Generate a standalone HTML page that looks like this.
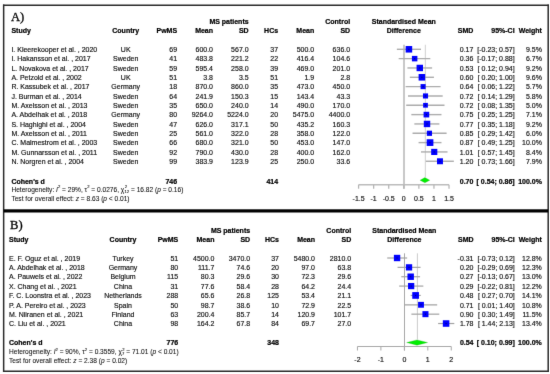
<!DOCTYPE html>
<html><head><meta charset="utf-8"><title>Forest plots</title>
<style>html,body{margin:0;padding:0;background:#fff;width:550px;height:374px;overflow:hidden}svg{display:block}</style>
</head><body>
<svg width="550" height="374" viewBox="0 0 550 374" font-family="'Liberation Sans', Arial, sans-serif" font-size="7.0">
<style>text{stroke:currentColor;stroke-width:0.15px;paint-order:stroke}text[font-weight=bold]{stroke-width:0.22px}</style>
<defs><filter id="soft" filterUnits="userSpaceOnUse" x="0" y="0" width="550" height="374" color-interpolation-filters="sRGB"><feConvolveMatrix order="3" kernelMatrix="0.00524 0.06192 0.00524 0.06192 0.73137 0.06192 0.00524 0.06192 0.00524" edgeMode="duplicate"/></filter></defs>
<g filter="url(#soft)">
<rect width="550" height="374" fill="#fff"/>
<text x="10.90" y="21.30" font-size="12.6" font-family="'Liberation Serif', 'Times New Roman', serif" style="stroke:#000;stroke-width:0.3px">A)</text>
<text transform="translate(11.40,33.49) scale(1,1.04)" font-weight="bold">Study</text>
<text transform="translate(125.70,33.49) scale(1,1.04)" text-anchor="middle" font-weight="bold">Country</text>
<text transform="translate(177.10,33.49) scale(1,1.04)" text-anchor="end" font-weight="bold">PwMS</text>
<text transform="translate(213.00,33.49) scale(1,1.04)" text-anchor="end" font-weight="bold">Mean</text>
<text transform="translate(248.60,24.16) scale(1,1.04)" text-anchor="end" font-weight="bold">MS patients</text>
<text transform="translate(248.60,33.49) scale(1,1.04)" text-anchor="end" font-weight="bold">SD</text>
<text transform="translate(278.10,33.49) scale(1,1.04)" text-anchor="end" font-weight="bold">HCs</text>
<text transform="translate(314.20,33.49) scale(1,1.04)" text-anchor="end" font-weight="bold">Mean</text>
<text transform="translate(350.10,24.16) scale(1,1.04)" text-anchor="end" font-weight="bold">Control</text>
<text transform="translate(350.10,33.49) scale(1,1.04)" text-anchor="end" font-weight="bold">SD</text>
<text transform="translate(403.80,24.16) scale(1,1.04)" text-anchor="middle" font-weight="bold">Standardised Mean</text>
<text transform="translate(403.80,33.49) scale(1,1.04)" text-anchor="middle" font-weight="bold">Difference</text>
<text transform="translate(473.40,33.49) scale(1,1.04)" text-anchor="end" font-weight="bold">SMD</text>
<text transform="translate(514.60,33.49) scale(1,1.04)" text-anchor="end" font-weight="bold">95%-CI</text>
<text transform="translate(541.90,33.49) scale(1,1.04)" text-anchor="end" font-weight="bold">Weight</text>
<line x1="404.00" y1="44.63" x2="404.00" y2="188.70" stroke="#c8c8c8" stroke-width="2.0"/>
<line x1="425.40" y1="44.63" x2="425.40" y2="177.27" stroke="#d8d8d8" stroke-width="1.2"/>
<text transform="translate(11.40,52.00) scale(1,1.04)" fill="#111">I. Kleerekooper et al. , 2020</text>
<text transform="translate(125.70,52.00) scale(1,1.04)" text-anchor="middle" fill="#111">UK</text>
<text transform="translate(177.10,52.00) scale(1,1.04)" text-anchor="end" fill="#111">69</text>
<text transform="translate(213.00,52.00) scale(1,1.04)" text-anchor="end" fill="#111">600.0</text>
<text transform="translate(248.60,52.00) scale(1,1.04)" text-anchor="end" fill="#111">567.0</text>
<text transform="translate(278.10,52.00) scale(1,1.04)" text-anchor="end" fill="#111">37</text>
<text transform="translate(314.20,52.00) scale(1,1.04)" text-anchor="end" fill="#111">500.0</text>
<text transform="translate(350.10,52.00) scale(1,1.04)" text-anchor="end" fill="#111">636.0</text>
<text transform="translate(473.40,52.00) scale(1,1.04)" text-anchor="end" fill="#111">0.17</text>
<text transform="translate(514.60,52.00) scale(1,1.04)" text-anchor="end" fill="#111" xml:space="preserve">[-0.23; 0.57]</text>
<text transform="translate(541.90,52.00) scale(1,1.04)" text-anchor="end" fill="#111">9.5%</text>
<line x1="396.87" y1="49.30" x2="420.99" y2="49.30" stroke="#acacac" stroke-width="1.4"/>
<rect x="405.66" y="46.03" width="6.53" height="6.53" fill="#0000ff"/>
<rect x="408.33" y="48.70" width="1.20" height="1.20" fill="#000080"/>
<text transform="translate(11.40,61.33) scale(1,1.04)" fill="#111">I. Hakansson et al. , 2017</text>
<text transform="translate(125.70,61.33) scale(1,1.04)" text-anchor="middle" fill="#111">Sweden</text>
<text transform="translate(177.10,61.33) scale(1,1.04)" text-anchor="end" fill="#111">41</text>
<text transform="translate(213.00,61.33) scale(1,1.04)" text-anchor="end" fill="#111">483.8</text>
<text transform="translate(248.60,61.33) scale(1,1.04)" text-anchor="end" fill="#111">221.2</text>
<text transform="translate(278.10,61.33) scale(1,1.04)" text-anchor="end" fill="#111">22</text>
<text transform="translate(314.20,61.33) scale(1,1.04)" text-anchor="end" fill="#111">416.4</text>
<text transform="translate(350.10,61.33) scale(1,1.04)" text-anchor="end" fill="#111">104.6</text>
<text transform="translate(473.40,61.33) scale(1,1.04)" text-anchor="end" fill="#111">0.36</text>
<text transform="translate(514.60,61.33) scale(1,1.04)" text-anchor="end" fill="#111" xml:space="preserve">[-0.17; 0.88]</text>
<text transform="translate(541.90,61.33) scale(1,1.04)" text-anchor="end" fill="#111">6.7%</text>
<line x1="398.67" y1="58.63" x2="430.33" y2="58.63" stroke="#acacac" stroke-width="1.4"/>
<rect x="411.91" y="55.89" width="5.48" height="5.48" fill="#0000ff"/>
<rect x="414.05" y="58.03" width="1.20" height="1.20" fill="#000080"/>
<text transform="translate(11.40,70.66) scale(1,1.04)" fill="#111">L. Novakova et al. , 2017</text>
<text transform="translate(125.70,70.66) scale(1,1.04)" text-anchor="middle" fill="#111">Sweden</text>
<text transform="translate(177.10,70.66) scale(1,1.04)" text-anchor="end" fill="#111">59</text>
<text transform="translate(213.00,70.66) scale(1,1.04)" text-anchor="end" fill="#111">595.4</text>
<text transform="translate(248.60,70.66) scale(1,1.04)" text-anchor="end" fill="#111">258.0</text>
<text transform="translate(278.10,70.66) scale(1,1.04)" text-anchor="end" fill="#111">39</text>
<text transform="translate(314.20,70.66) scale(1,1.04)" text-anchor="end" fill="#111">469.0</text>
<text transform="translate(350.10,70.66) scale(1,1.04)" text-anchor="end" fill="#111">201.0</text>
<text transform="translate(473.40,70.66) scale(1,1.04)" text-anchor="end" fill="#111">0.53</text>
<text transform="translate(514.60,70.66) scale(1,1.04)" text-anchor="end" fill="#111" xml:space="preserve">[&#160;0.12; 0.94]</text>
<text transform="translate(541.90,70.66) scale(1,1.04)" text-anchor="end" fill="#111">9.2%</text>
<line x1="407.42" y1="67.96" x2="432.14" y2="67.96" stroke="#acacac" stroke-width="1.4"/>
<rect x="416.57" y="64.75" width="6.43" height="6.43" fill="#0000ff"/>
<rect x="419.18" y="67.36" width="1.20" height="1.20" fill="#000080"/>
<text transform="translate(11.40,79.99) scale(1,1.04)" fill="#111">A. Petzold et al. , 2002</text>
<text transform="translate(125.70,79.99) scale(1,1.04)" text-anchor="middle" fill="#111">UK</text>
<text transform="translate(177.10,79.99) scale(1,1.04)" text-anchor="end" fill="#111">51</text>
<text transform="translate(213.00,79.99) scale(1,1.04)" text-anchor="end" fill="#111">3.8</text>
<text transform="translate(248.60,79.99) scale(1,1.04)" text-anchor="end" fill="#111">3.5</text>
<text transform="translate(278.10,79.99) scale(1,1.04)" text-anchor="end" fill="#111">51</text>
<text transform="translate(314.20,79.99) scale(1,1.04)" text-anchor="end" fill="#111">1.9</text>
<text transform="translate(350.10,79.99) scale(1,1.04)" text-anchor="end" fill="#111">2.8</text>
<text transform="translate(473.40,79.99) scale(1,1.04)" text-anchor="end" fill="#111">0.60</text>
<text transform="translate(514.60,79.99) scale(1,1.04)" text-anchor="end" fill="#111" xml:space="preserve">[&#160;0.20; 1.00]</text>
<text transform="translate(541.90,79.99) scale(1,1.04)" text-anchor="end" fill="#111">9.6%</text>
<line x1="409.83" y1="77.29" x2="433.95" y2="77.29" stroke="#acacac" stroke-width="1.4"/>
<rect x="418.61" y="74.01" width="6.56" height="6.56" fill="#0000ff"/>
<rect x="421.29" y="76.69" width="1.20" height="1.20" fill="#000080"/>
<text transform="translate(11.40,89.32) scale(1,1.04)" fill="#111">R. Kassubek et al. , 2017</text>
<text transform="translate(125.70,89.32) scale(1,1.04)" text-anchor="middle" fill="#111">Germany</text>
<text transform="translate(177.10,89.32) scale(1,1.04)" text-anchor="end" fill="#111">18</text>
<text transform="translate(213.00,89.32) scale(1,1.04)" text-anchor="end" fill="#111">870.0</text>
<text transform="translate(248.60,89.32) scale(1,1.04)" text-anchor="end" fill="#111">860.0</text>
<text transform="translate(278.10,89.32) scale(1,1.04)" text-anchor="end" fill="#111">35</text>
<text transform="translate(314.20,89.32) scale(1,1.04)" text-anchor="end" fill="#111">473.0</text>
<text transform="translate(350.10,89.32) scale(1,1.04)" text-anchor="end" fill="#111">450.0</text>
<text transform="translate(473.40,89.32) scale(1,1.04)" text-anchor="end" fill="#111">0.64</text>
<text transform="translate(514.60,89.32) scale(1,1.04)" text-anchor="end" fill="#111" xml:space="preserve">[&#160;0.06; 1.22]</text>
<text transform="translate(541.90,89.32) scale(1,1.04)" text-anchor="end" fill="#111">5.7%</text>
<line x1="405.61" y1="86.62" x2="440.58" y2="86.62" stroke="#acacac" stroke-width="1.4"/>
<rect x="420.57" y="84.09" width="5.06" height="5.06" fill="#0000ff"/>
<rect x="422.50" y="86.02" width="1.20" height="1.20" fill="#000080"/>
<text transform="translate(11.40,98.65) scale(1,1.04)" fill="#111">J. Burman et al. , 2014</text>
<text transform="translate(125.70,98.65) scale(1,1.04)" text-anchor="middle" fill="#111">Sweden</text>
<text transform="translate(177.10,98.65) scale(1,1.04)" text-anchor="end" fill="#111">64</text>
<text transform="translate(213.00,98.65) scale(1,1.04)" text-anchor="end" fill="#111">241.9</text>
<text transform="translate(248.60,98.65) scale(1,1.04)" text-anchor="end" fill="#111">150.3</text>
<text transform="translate(278.10,98.65) scale(1,1.04)" text-anchor="end" fill="#111">15</text>
<text transform="translate(314.20,98.65) scale(1,1.04)" text-anchor="end" fill="#111">143.4</text>
<text transform="translate(350.10,98.65) scale(1,1.04)" text-anchor="end" fill="#111">43.3</text>
<text transform="translate(473.40,98.65) scale(1,1.04)" text-anchor="end" fill="#111">0.72</text>
<text transform="translate(514.60,98.65) scale(1,1.04)" text-anchor="end" fill="#111" xml:space="preserve">[&#160;0.14; 1.29]</text>
<text transform="translate(541.90,98.65) scale(1,1.04)" text-anchor="end" fill="#111">5.8%</text>
<line x1="408.02" y1="95.95" x2="442.69" y2="95.95" stroke="#acacac" stroke-width="1.4"/>
<rect x="422.96" y="93.40" width="5.10" height="5.10" fill="#0000ff"/>
<rect x="424.91" y="95.35" width="1.20" height="1.20" fill="#000080"/>
<text transform="translate(11.40,107.98) scale(1,1.04)" fill="#111">M. Axelsson et al. , 2013</text>
<text transform="translate(125.70,107.98) scale(1,1.04)" text-anchor="middle" fill="#111">Sweden</text>
<text transform="translate(177.10,107.98) scale(1,1.04)" text-anchor="end" fill="#111">35</text>
<text transform="translate(213.00,107.98) scale(1,1.04)" text-anchor="end" fill="#111">650.0</text>
<text transform="translate(248.60,107.98) scale(1,1.04)" text-anchor="end" fill="#111">240.0</text>
<text transform="translate(278.10,107.98) scale(1,1.04)" text-anchor="end" fill="#111">14</text>
<text transform="translate(314.20,107.98) scale(1,1.04)" text-anchor="end" fill="#111">490.0</text>
<text transform="translate(350.10,107.98) scale(1,1.04)" text-anchor="end" fill="#111">170.0</text>
<text transform="translate(473.40,107.98) scale(1,1.04)" text-anchor="end" fill="#111">0.72</text>
<text transform="translate(514.60,107.98) scale(1,1.04)" text-anchor="end" fill="#111" xml:space="preserve">[&#160;0.08; 1.35]</text>
<text transform="translate(541.90,107.98) scale(1,1.04)" text-anchor="end" fill="#111">5.0%</text>
<line x1="406.21" y1="105.28" x2="444.50" y2="105.28" stroke="#acacac" stroke-width="1.4"/>
<rect x="423.14" y="102.91" width="4.74" height="4.74" fill="#0000ff"/>
<rect x="424.91" y="104.68" width="1.20" height="1.20" fill="#000080"/>
<text transform="translate(11.40,117.31) scale(1,1.04)" fill="#111">A. Abdelhak et al. , 2018</text>
<text transform="translate(125.70,117.31) scale(1,1.04)" text-anchor="middle" fill="#111">Germany</text>
<text transform="translate(177.10,117.31) scale(1,1.04)" text-anchor="end" fill="#111">80</text>
<text transform="translate(213.00,117.31) scale(1,1.04)" text-anchor="end" fill="#111">9264.0</text>
<text transform="translate(248.60,117.31) scale(1,1.04)" text-anchor="end" fill="#111">5224.0</text>
<text transform="translate(278.10,117.31) scale(1,1.04)" text-anchor="end" fill="#111">20</text>
<text transform="translate(314.20,117.31) scale(1,1.04)" text-anchor="end" fill="#111">5475.0</text>
<text transform="translate(350.10,117.31) scale(1,1.04)" text-anchor="end" fill="#111">4400.0</text>
<text transform="translate(473.40,117.31) scale(1,1.04)" text-anchor="end" fill="#111">0.75</text>
<text transform="translate(514.60,117.31) scale(1,1.04)" text-anchor="end" fill="#111" xml:space="preserve">[&#160;0.25; 1.25]</text>
<text transform="translate(541.90,117.31) scale(1,1.04)" text-anchor="end" fill="#111">7.1%</text>
<line x1="411.34" y1="114.61" x2="441.49" y2="114.61" stroke="#acacac" stroke-width="1.4"/>
<rect x="423.59" y="111.79" width="5.65" height="5.65" fill="#0000ff"/>
<rect x="425.81" y="114.01" width="1.20" height="1.20" fill="#000080"/>
<text transform="translate(11.40,126.64) scale(1,1.04)" fill="#111">S. Haghighi et al. , 2004</text>
<text transform="translate(125.70,126.64) scale(1,1.04)" text-anchor="middle" fill="#111">Sweden</text>
<text transform="translate(177.10,126.64) scale(1,1.04)" text-anchor="end" fill="#111">47</text>
<text transform="translate(213.00,126.64) scale(1,1.04)" text-anchor="end" fill="#111">626.0</text>
<text transform="translate(248.60,126.64) scale(1,1.04)" text-anchor="end" fill="#111">317.1</text>
<text transform="translate(278.10,126.64) scale(1,1.04)" text-anchor="end" fill="#111">50</text>
<text transform="translate(314.20,126.64) scale(1,1.04)" text-anchor="end" fill="#111">435.2</text>
<text transform="translate(350.10,126.64) scale(1,1.04)" text-anchor="end" fill="#111">160.3</text>
<text transform="translate(473.40,126.64) scale(1,1.04)" text-anchor="end" fill="#111">0.77</text>
<text transform="translate(514.60,126.64) scale(1,1.04)" text-anchor="end" fill="#111" xml:space="preserve">[&#160;0.35; 1.18]</text>
<text transform="translate(541.90,126.64) scale(1,1.04)" text-anchor="end" fill="#111">9.2%</text>
<line x1="414.35" y1="123.94" x2="439.38" y2="123.94" stroke="#acacac" stroke-width="1.4"/>
<rect x="423.80" y="120.73" width="6.43" height="6.43" fill="#0000ff"/>
<rect x="426.42" y="123.34" width="1.20" height="1.20" fill="#000080"/>
<text transform="translate(11.40,135.97) scale(1,1.04)" fill="#111">M. Axelsson et al. , 2011</text>
<text transform="translate(125.70,135.97) scale(1,1.04)" text-anchor="middle" fill="#111">Sweden</text>
<text transform="translate(177.10,135.97) scale(1,1.04)" text-anchor="end" fill="#111">25</text>
<text transform="translate(213.00,135.97) scale(1,1.04)" text-anchor="end" fill="#111">561.0</text>
<text transform="translate(248.60,135.97) scale(1,1.04)" text-anchor="end" fill="#111">322.0</text>
<text transform="translate(278.10,135.97) scale(1,1.04)" text-anchor="end" fill="#111">28</text>
<text transform="translate(314.20,135.97) scale(1,1.04)" text-anchor="end" fill="#111">358.0</text>
<text transform="translate(350.10,135.97) scale(1,1.04)" text-anchor="end" fill="#111">122.0</text>
<text transform="translate(473.40,135.97) scale(1,1.04)" text-anchor="end" fill="#111">0.85</text>
<text transform="translate(514.60,135.97) scale(1,1.04)" text-anchor="end" fill="#111" xml:space="preserve">[&#160;0.29; 1.42]</text>
<text transform="translate(541.90,135.97) scale(1,1.04)" text-anchor="end" fill="#111">6.0%</text>
<line x1="412.54" y1="133.27" x2="446.61" y2="133.27" stroke="#acacac" stroke-width="1.4"/>
<rect x="426.83" y="130.68" width="5.19" height="5.19" fill="#0000ff"/>
<rect x="428.83" y="132.67" width="1.20" height="1.20" fill="#000080"/>
<text transform="translate(11.40,145.30) scale(1,1.04)" fill="#111">C. Malmestrom et al. , 2003</text>
<text transform="translate(125.70,145.30) scale(1,1.04)" text-anchor="middle" fill="#111">Sweden</text>
<text transform="translate(177.10,145.30) scale(1,1.04)" text-anchor="end" fill="#111">66</text>
<text transform="translate(213.00,145.30) scale(1,1.04)" text-anchor="end" fill="#111">680.0</text>
<text transform="translate(248.60,145.30) scale(1,1.04)" text-anchor="end" fill="#111">321.0</text>
<text transform="translate(278.10,145.30) scale(1,1.04)" text-anchor="end" fill="#111">50</text>
<text transform="translate(314.20,145.30) scale(1,1.04)" text-anchor="end" fill="#111">453.0</text>
<text transform="translate(350.10,145.30) scale(1,1.04)" text-anchor="end" fill="#111">147.0</text>
<text transform="translate(473.40,145.30) scale(1,1.04)" text-anchor="end" fill="#111">0.87</text>
<text transform="translate(514.60,145.30) scale(1,1.04)" text-anchor="end" fill="#111" xml:space="preserve">[&#160;0.49; 1.25]</text>
<text transform="translate(541.90,145.30) scale(1,1.04)" text-anchor="end" fill="#111">10.0%</text>
<line x1="418.57" y1="142.60" x2="441.49" y2="142.60" stroke="#acacac" stroke-width="1.4"/>
<rect x="426.68" y="139.25" width="6.70" height="6.70" fill="#0000ff"/>
<rect x="429.43" y="142.00" width="1.20" height="1.20" fill="#000080"/>
<text transform="translate(11.40,154.63) scale(1,1.04)" fill="#111">M. Gunnarsson et al. , 2011</text>
<text transform="translate(125.70,154.63) scale(1,1.04)" text-anchor="middle" fill="#111">Sweden</text>
<text transform="translate(177.10,154.63) scale(1,1.04)" text-anchor="end" fill="#111">92</text>
<text transform="translate(213.00,154.63) scale(1,1.04)" text-anchor="end" fill="#111">790.0</text>
<text transform="translate(248.60,154.63) scale(1,1.04)" text-anchor="end" fill="#111">430.0</text>
<text transform="translate(278.10,154.63) scale(1,1.04)" text-anchor="end" fill="#111">28</text>
<text transform="translate(314.20,154.63) scale(1,1.04)" text-anchor="end" fill="#111">400.0</text>
<text transform="translate(350.10,154.63) scale(1,1.04)" text-anchor="end" fill="#111">162.0</text>
<text transform="translate(473.40,154.63) scale(1,1.04)" text-anchor="end" fill="#111">1.01</text>
<text transform="translate(514.60,154.63) scale(1,1.04)" text-anchor="end" fill="#111" xml:space="preserve">[&#160;0.57; 1.45]</text>
<text transform="translate(541.90,154.63) scale(1,1.04)" text-anchor="end" fill="#111">8.4%</text>
<line x1="420.99" y1="151.93" x2="447.52" y2="151.93" stroke="#acacac" stroke-width="1.4"/>
<rect x="431.18" y="148.86" width="6.14" height="6.14" fill="#0000ff"/>
<rect x="433.65" y="151.33" width="1.20" height="1.20" fill="#000080"/>
<text transform="translate(11.40,163.96) scale(1,1.04)" fill="#111">N. Norgren et al. , 2004</text>
<text transform="translate(125.70,163.96) scale(1,1.04)" text-anchor="middle" fill="#111">Sweden</text>
<text transform="translate(177.10,163.96) scale(1,1.04)" text-anchor="end" fill="#111">99</text>
<text transform="translate(213.00,163.96) scale(1,1.04)" text-anchor="end" fill="#111">383.9</text>
<text transform="translate(248.60,163.96) scale(1,1.04)" text-anchor="end" fill="#111">123.9</text>
<text transform="translate(278.10,163.96) scale(1,1.04)" text-anchor="end" fill="#111">25</text>
<text transform="translate(314.20,163.96) scale(1,1.04)" text-anchor="end" fill="#111">250.0</text>
<text transform="translate(350.10,163.96) scale(1,1.04)" text-anchor="end" fill="#111">33.6</text>
<text transform="translate(473.40,163.96) scale(1,1.04)" text-anchor="end" fill="#111">1.20</text>
<text transform="translate(514.60,163.96) scale(1,1.04)" text-anchor="end" fill="#111" xml:space="preserve">[&#160;0.73; 1.66]</text>
<text transform="translate(541.90,163.96) scale(1,1.04)" text-anchor="end" fill="#111">7.9%</text>
<line x1="425.81" y1="161.26" x2="453.85" y2="161.26" stroke="#acacac" stroke-width="1.4"/>
<rect x="437.00" y="158.28" width="5.96" height="5.96" fill="#0000ff"/>
<rect x="439.38" y="160.66" width="1.20" height="1.20" fill="#000080"/>
<text transform="translate(11.40,183.52) scale(1,1.04)" font-weight="bold">Cohen's d</text>
<text transform="translate(177.10,183.52) scale(1,1.04)" text-anchor="end" font-weight="bold">746</text>
<text transform="translate(278.10,183.52) scale(1,1.04)" text-anchor="end" font-weight="bold">414</text>
<text transform="translate(473.40,183.52) scale(1,1.04)" text-anchor="end" font-weight="bold">0.70</text>
<text transform="translate(514.60,183.52) scale(1,1.04)" text-anchor="end" font-weight="bold">[&#160;0.54; 0.86]</text>
<text transform="translate(541.90,183.52) scale(1,1.04)" text-anchor="end" font-weight="bold">100.0%</text>
<polygon points="420.08,180.22 424.91,177.57 429.73,180.22 424.91,182.87" fill="#00ee00" stroke="#33aa33" stroke-width="0.3"/>
<text transform="translate(11.40,192.20) scale(1,1.04)" font-size="6.6" fill="#111" style="stroke-width:0.06px">Heterogeneity: <tspan font-style="italic">I</tspan><tspan dy="-3.6" font-size="4.2" style="stroke-width:0.1px">2</tspan><tspan dy="3.6"> = 29%, τ</tspan><tspan dy="-3.6" font-size="4.2" style="stroke-width:0.1px">2</tspan><tspan dy="3.6"> = 0.0276, χ</tspan><tspan dx="0.4" dy="-3.6" font-size="4.2" style="stroke-width:0.1px">2</tspan><tspan dx="-2.5" dy="3.9" font-size="4.2" style="stroke-width:0.1px">12</tspan><tspan dy="-0.3"> = 16.82 (</tspan><tspan font-style="italic">p</tspan> = 0.16)</text>
<text transform="translate(11.40,200.50) scale(1,1.04)" font-size="6.6" fill="#111" style="stroke-width:0.06px">Test for overall effect: <tspan font-style="italic">z</tspan> = 8.63 (<tspan font-style="italic">p</tspan> &lt; 0.01)</text>
<line x1="358.58" y1="184.70" x2="449.02" y2="184.70" stroke="#bcbcbc" stroke-width="1.6"/>
<line x1="358.58" y1="184.70" x2="358.58" y2="188.70" stroke="#b4b4b4" stroke-width="1.25"/>
<text transform="translate(358.58,201.00) scale(1,1.04)" text-anchor="middle" fill="#111">-1.5</text>
<line x1="373.65" y1="184.70" x2="373.65" y2="188.70" stroke="#b4b4b4" stroke-width="1.25"/>
<text transform="translate(373.65,201.00) scale(1,1.04)" text-anchor="middle" fill="#111">-1</text>
<line x1="388.73" y1="184.70" x2="388.73" y2="188.70" stroke="#b4b4b4" stroke-width="1.25"/>
<text transform="translate(388.73,201.00) scale(1,1.04)" text-anchor="middle" fill="#111">-0.5</text>
<line x1="403.80" y1="184.70" x2="403.80" y2="188.70" stroke="#b4b4b4" stroke-width="1.25"/>
<text transform="translate(403.80,201.00) scale(1,1.04)" text-anchor="middle" fill="#111">0</text>
<line x1="418.88" y1="184.70" x2="418.88" y2="188.70" stroke="#b4b4b4" stroke-width="1.25"/>
<text transform="translate(418.88,201.00) scale(1,1.04)" text-anchor="middle" fill="#111">0.5</text>
<line x1="433.95" y1="184.70" x2="433.95" y2="188.70" stroke="#b4b4b4" stroke-width="1.25"/>
<text transform="translate(433.95,201.00) scale(1,1.04)" text-anchor="middle" fill="#111">1</text>
<line x1="449.02" y1="184.70" x2="449.02" y2="188.70" stroke="#b4b4b4" stroke-width="1.25"/>
<text transform="translate(449.02,201.00) scale(1,1.04)" text-anchor="middle" fill="#111">1.5</text>
<text x="10.10" y="229.30" font-size="12.6" font-family="'Liberation Serif', 'Times New Roman', serif" style="stroke:#000;stroke-width:0.3px">B)</text>
<text transform="translate(9.00,242.13) scale(1,1.04)" font-weight="bold">Study</text>
<text transform="translate(123.00,242.13) scale(1,1.04)" text-anchor="middle" font-weight="bold">Country</text>
<text transform="translate(178.20,242.13) scale(1,1.04)" text-anchor="end" font-weight="bold">PwMS</text>
<text transform="translate(214.40,242.13) scale(1,1.04)" text-anchor="end" font-weight="bold">Mean</text>
<text transform="translate(250.10,232.77) scale(1,1.04)" text-anchor="end" font-weight="bold">MS patients</text>
<text transform="translate(250.10,242.13) scale(1,1.04)" text-anchor="end" font-weight="bold">SD</text>
<text transform="translate(279.00,242.13) scale(1,1.04)" text-anchor="end" font-weight="bold">HCs</text>
<text transform="translate(315.00,242.13) scale(1,1.04)" text-anchor="end" font-weight="bold">Mean</text>
<text transform="translate(351.20,232.77) scale(1,1.04)" text-anchor="end" font-weight="bold">Control</text>
<text transform="translate(351.20,242.13) scale(1,1.04)" text-anchor="end" font-weight="bold">SD</text>
<text transform="translate(404.35,232.77) scale(1,1.04)" text-anchor="middle" font-weight="bold">Standardised Mean</text>
<text transform="translate(404.35,242.13) scale(1,1.04)" text-anchor="middle" font-weight="bold">Difference</text>
<text transform="translate(473.50,242.13) scale(1,1.04)" text-anchor="end" font-weight="bold">SMD</text>
<text transform="translate(514.80,242.13) scale(1,1.04)" text-anchor="end" font-weight="bold">95%-CI</text>
<text transform="translate(541.80,242.13) scale(1,1.04)" text-anchor="end" font-weight="bold">Weight</text>
<line x1="404.50" y1="253.32" x2="404.50" y2="350.50" stroke="#a8a8a8" stroke-width="1.0"/>
<line x1="417.40" y1="253.32" x2="417.40" y2="339.59" stroke="#cccccc" stroke-width="1.0"/>
<text transform="translate(9.00,260.70) scale(1,1.04)" fill="#111">E. F. Oguz et al. , 2019</text>
<text transform="translate(123.00,260.70) scale(1,1.04)" text-anchor="middle" fill="#111">Turkey</text>
<text transform="translate(178.20,260.70) scale(1,1.04)" text-anchor="end" fill="#111">51</text>
<text transform="translate(214.40,260.70) scale(1,1.04)" text-anchor="end" fill="#111">4500.0</text>
<text transform="translate(250.10,260.70) scale(1,1.04)" text-anchor="end" fill="#111">3470.0</text>
<text transform="translate(279.00,260.70) scale(1,1.04)" text-anchor="end" fill="#111">37</text>
<text transform="translate(315.00,260.70) scale(1,1.04)" text-anchor="end" fill="#111">5480.0</text>
<text transform="translate(351.20,260.70) scale(1,1.04)" text-anchor="end" fill="#111">2810.0</text>
<text transform="translate(473.50,260.70) scale(1,1.04)" text-anchor="end" fill="#111">-0.31</text>
<text transform="translate(514.80,260.70) scale(1,1.04)" text-anchor="end" fill="#111" xml:space="preserve">[-0.73; 0.12]</text>
<text transform="translate(541.80,260.70) scale(1,1.04)" text-anchor="end" fill="#111">12.8%</text>
<line x1="387.23" y1="258.00" x2="407.16" y2="258.00" stroke="#a2a2a2" stroke-width="1.2"/>
<rect x="393.89" y="254.81" width="6.38" height="6.38" fill="#0000ff"/>
<rect x="396.48" y="257.40" width="1.20" height="1.20" fill="#000080"/>
<text transform="translate(9.00,270.06) scale(1,1.04)" fill="#111">A. Abdelhak et al. , 2018</text>
<text transform="translate(123.00,270.06) scale(1,1.04)" text-anchor="middle" fill="#111">Germany</text>
<text transform="translate(178.20,270.06) scale(1,1.04)" text-anchor="end" fill="#111">80</text>
<text transform="translate(214.40,270.06) scale(1,1.04)" text-anchor="end" fill="#111">111.7</text>
<text transform="translate(250.10,270.06) scale(1,1.04)" text-anchor="end" fill="#111">74.6</text>
<text transform="translate(279.00,270.06) scale(1,1.04)" text-anchor="end" fill="#111">20</text>
<text transform="translate(315.00,270.06) scale(1,1.04)" text-anchor="end" fill="#111">97.0</text>
<text transform="translate(351.20,270.06) scale(1,1.04)" text-anchor="end" fill="#111">63.8</text>
<text transform="translate(473.50,270.06) scale(1,1.04)" text-anchor="end" fill="#111">0.20</text>
<text transform="translate(514.80,270.06) scale(1,1.04)" text-anchor="end" fill="#111" xml:space="preserve">[-0.29; 0.69]</text>
<text transform="translate(541.80,270.06) scale(1,1.04)" text-anchor="end" fill="#111">12.3%</text>
<line x1="397.55" y1="267.36" x2="420.53" y2="267.36" stroke="#a2a2a2" stroke-width="1.2"/>
<rect x="405.91" y="264.23" width="6.26" height="6.26" fill="#0000ff"/>
<rect x="408.44" y="266.76" width="1.20" height="1.20" fill="#000080"/>
<text transform="translate(9.00,279.42) scale(1,1.04)" fill="#111">A. Pauwels et al. , 2022</text>
<text transform="translate(123.00,279.42) scale(1,1.04)" text-anchor="middle" fill="#111">Belgium</text>
<text transform="translate(178.20,279.42) scale(1,1.04)" text-anchor="end" fill="#111">115</text>
<text transform="translate(214.40,279.42) scale(1,1.04)" text-anchor="end" fill="#111">80.3</text>
<text transform="translate(250.10,279.42) scale(1,1.04)" text-anchor="end" fill="#111">29.6</text>
<text transform="translate(279.00,279.42) scale(1,1.04)" text-anchor="end" fill="#111">30</text>
<text transform="translate(315.00,279.42) scale(1,1.04)" text-anchor="end" fill="#111">72.3</text>
<text transform="translate(351.20,279.42) scale(1,1.04)" text-anchor="end" fill="#111">29.6</text>
<text transform="translate(473.50,279.42) scale(1,1.04)" text-anchor="end" fill="#111">0.27</text>
<text transform="translate(514.80,279.42) scale(1,1.04)" text-anchor="end" fill="#111" xml:space="preserve">[-0.13; 0.67]</text>
<text transform="translate(541.80,279.42) scale(1,1.04)" text-anchor="end" fill="#111">13.0%</text>
<line x1="401.30" y1="276.72" x2="420.06" y2="276.72" stroke="#a2a2a2" stroke-width="1.2"/>
<rect x="407.46" y="273.50" width="6.43" height="6.43" fill="#0000ff"/>
<rect x="410.08" y="276.12" width="1.20" height="1.20" fill="#000080"/>
<text transform="translate(9.00,288.78) scale(1,1.04)" fill="#111">X. Chang et al. , 2021</text>
<text transform="translate(123.00,288.78) scale(1,1.04)" text-anchor="middle" fill="#111">China</text>
<text transform="translate(178.20,288.78) scale(1,1.04)" text-anchor="end" fill="#111">31</text>
<text transform="translate(214.40,288.78) scale(1,1.04)" text-anchor="end" fill="#111">77.6</text>
<text transform="translate(250.10,288.78) scale(1,1.04)" text-anchor="end" fill="#111">58.4</text>
<text transform="translate(279.00,288.78) scale(1,1.04)" text-anchor="end" fill="#111">28</text>
<text transform="translate(315.00,288.78) scale(1,1.04)" text-anchor="end" fill="#111">64.2</text>
<text transform="translate(351.20,288.78) scale(1,1.04)" text-anchor="end" fill="#111">24.4</text>
<text transform="translate(473.50,288.78) scale(1,1.04)" text-anchor="end" fill="#111">0.29</text>
<text transform="translate(514.80,288.78) scale(1,1.04)" text-anchor="end" fill="#111" xml:space="preserve">[-0.22; 0.81]</text>
<text transform="translate(541.80,288.78) scale(1,1.04)" text-anchor="end" fill="#111">12.2%</text>
<line x1="399.19" y1="286.08" x2="423.34" y2="286.08" stroke="#a2a2a2" stroke-width="1.2"/>
<rect x="408.03" y="282.96" width="6.23" height="6.23" fill="#0000ff"/>
<rect x="410.55" y="285.48" width="1.20" height="1.20" fill="#000080"/>
<text transform="translate(9.00,298.14) scale(1,1.04)" fill="#111">F. C. Loonstra et al. , 2023</text>
<text transform="translate(123.00,298.14) scale(1,1.04)" text-anchor="middle" fill="#111">Netherlands</text>
<text transform="translate(178.20,298.14) scale(1,1.04)" text-anchor="end" fill="#111">288</text>
<text transform="translate(214.40,298.14) scale(1,1.04)" text-anchor="end" fill="#111">65.6</text>
<text transform="translate(250.10,298.14) scale(1,1.04)" text-anchor="end" fill="#111">26.8</text>
<text transform="translate(279.00,298.14) scale(1,1.04)" text-anchor="end" fill="#111">125</text>
<text transform="translate(315.00,298.14) scale(1,1.04)" text-anchor="end" fill="#111">53.4</text>
<text transform="translate(351.20,298.14) scale(1,1.04)" text-anchor="end" fill="#111">21.1</text>
<text transform="translate(473.50,298.14) scale(1,1.04)" text-anchor="end" fill="#111">0.48</text>
<text transform="translate(514.80,298.14) scale(1,1.04)" text-anchor="end" fill="#111" xml:space="preserve">[&#160;0.27; 0.70]</text>
<text transform="translate(541.80,298.14) scale(1,1.04)" text-anchor="end" fill="#111">14.1%</text>
<line x1="410.68" y1="295.44" x2="420.77" y2="295.44" stroke="#a2a2a2" stroke-width="1.2"/>
<rect x="412.26" y="292.09" width="6.70" height="6.70" fill="#0000ff"/>
<rect x="415.01" y="294.84" width="1.20" height="1.20" fill="#000080"/>
<text transform="translate(9.00,307.50) scale(1,1.04)" fill="#111">P. A. Pereiro et al. , 2023</text>
<text transform="translate(123.00,307.50) scale(1,1.04)" text-anchor="middle" fill="#111">Spain</text>
<text transform="translate(178.20,307.50) scale(1,1.04)" text-anchor="end" fill="#111">50</text>
<text transform="translate(214.40,307.50) scale(1,1.04)" text-anchor="end" fill="#111">98.7</text>
<text transform="translate(250.10,307.50) scale(1,1.04)" text-anchor="end" fill="#111">38.6</text>
<text transform="translate(279.00,307.50) scale(1,1.04)" text-anchor="end" fill="#111">10</text>
<text transform="translate(315.00,307.50) scale(1,1.04)" text-anchor="end" fill="#111">72.9</text>
<text transform="translate(351.20,307.50) scale(1,1.04)" text-anchor="end" fill="#111">22.5</text>
<text transform="translate(473.50,307.50) scale(1,1.04)" text-anchor="end" fill="#111">0.71</text>
<text transform="translate(514.80,307.50) scale(1,1.04)" text-anchor="end" fill="#111" xml:space="preserve">[&#160;0.01; 1.40]</text>
<text transform="translate(541.80,307.50) scale(1,1.04)" text-anchor="end" fill="#111">10.8%</text>
<line x1="404.58" y1="304.80" x2="437.18" y2="304.80" stroke="#a2a2a2" stroke-width="1.2"/>
<rect x="418.07" y="301.87" width="5.86" height="5.86" fill="#0000ff"/>
<rect x="420.40" y="304.20" width="1.20" height="1.20" fill="#000080"/>
<text transform="translate(9.00,316.86) scale(1,1.04)" fill="#111">M. Niiranen et al. , 2021</text>
<text transform="translate(123.00,316.86) scale(1,1.04)" text-anchor="middle" fill="#111">Finland</text>
<text transform="translate(178.20,316.86) scale(1,1.04)" text-anchor="end" fill="#111">63</text>
<text transform="translate(214.40,316.86) scale(1,1.04)" text-anchor="end" fill="#111">200.4</text>
<text transform="translate(250.10,316.86) scale(1,1.04)" text-anchor="end" fill="#111">85.7</text>
<text transform="translate(279.00,316.86) scale(1,1.04)" text-anchor="end" fill="#111">14</text>
<text transform="translate(315.00,316.86) scale(1,1.04)" text-anchor="end" fill="#111">120.9</text>
<text transform="translate(351.20,316.86) scale(1,1.04)" text-anchor="end" fill="#111">101.7</text>
<text transform="translate(473.50,316.86) scale(1,1.04)" text-anchor="end" fill="#111">0.90</text>
<text transform="translate(514.80,316.86) scale(1,1.04)" text-anchor="end" fill="#111" xml:space="preserve">[&#160;0.30; 1.49]</text>
<text transform="translate(541.80,316.86) scale(1,1.04)" text-anchor="end" fill="#111">11.5%</text>
<line x1="411.39" y1="314.16" x2="439.29" y2="314.16" stroke="#a2a2a2" stroke-width="1.2"/>
<rect x="422.43" y="311.13" width="6.05" height="6.05" fill="#0000ff"/>
<rect x="424.86" y="313.56" width="1.20" height="1.20" fill="#000080"/>
<text transform="translate(9.00,326.22) scale(1,1.04)" fill="#111">C. Liu et al. , 2021</text>
<text transform="translate(123.00,326.22) scale(1,1.04)" text-anchor="middle" fill="#111">China</text>
<text transform="translate(178.20,326.22) scale(1,1.04)" text-anchor="end" fill="#111">98</text>
<text transform="translate(214.40,326.22) scale(1,1.04)" text-anchor="end" fill="#111">164.2</text>
<text transform="translate(250.10,326.22) scale(1,1.04)" text-anchor="end" fill="#111">67.8</text>
<text transform="translate(279.00,326.22) scale(1,1.04)" text-anchor="end" fill="#111">84</text>
<text transform="translate(315.00,326.22) scale(1,1.04)" text-anchor="end" fill="#111">69.7</text>
<text transform="translate(351.20,326.22) scale(1,1.04)" text-anchor="end" fill="#111">27.0</text>
<text transform="translate(473.50,326.22) scale(1,1.04)" text-anchor="end" fill="#111">1.78</text>
<text transform="translate(514.80,326.22) scale(1,1.04)" text-anchor="end" fill="#111" xml:space="preserve">[&#160;1.44; 2.13]</text>
<text transform="translate(541.80,326.22) scale(1,1.04)" text-anchor="end" fill="#111">13.4%</text>
<line x1="438.12" y1="323.52" x2="454.30" y2="323.52" stroke="#a2a2a2" stroke-width="1.2"/>
<rect x="442.83" y="320.25" width="6.53" height="6.53" fill="#0000ff"/>
<rect x="445.49" y="322.92" width="1.20" height="1.20" fill="#000080"/>
<text transform="translate(9.00,344.94) scale(1,1.04)" font-weight="bold">Cohen's d</text>
<text transform="translate(178.20,344.94) scale(1,1.04)" text-anchor="end" font-weight="bold">776</text>
<text transform="translate(279.00,344.94) scale(1,1.04)" text-anchor="end" font-weight="bold">348</text>
<text transform="translate(473.50,344.94) scale(1,1.04)" text-anchor="end" font-weight="bold">0.54</text>
<text transform="translate(514.80,344.94) scale(1,1.04)" text-anchor="end" font-weight="bold">[&#160;0.10; 0.99]</text>
<text transform="translate(541.80,344.94) scale(1,1.04)" text-anchor="end" font-weight="bold">100.0%</text>
<polygon points="406.70,342.54 417.01,339.89 427.57,342.54 417.01,345.19" fill="#00ee00" stroke="#33aa33" stroke-width="0.3"/>
<text transform="translate(9.00,354.30) scale(1,1.04)" font-size="6.6" fill="#111" style="stroke-width:0.06px">Heterogeneity: <tspan font-style="italic">I</tspan><tspan dy="-3.6" font-size="4.2" style="stroke-width:0.1px">2</tspan><tspan dy="3.6"> = 90%, τ</tspan><tspan dy="-3.6" font-size="4.2" style="stroke-width:0.1px">2</tspan><tspan dy="3.6"> = 0.3559, χ</tspan><tspan dx="0.4" dy="-3.6" font-size="4.2" style="stroke-width:0.1px">2</tspan><tspan dx="-2.5" dy="3.9" font-size="4.2" style="stroke-width:0.1px">7</tspan><tspan dy="-0.3"> = 71.01 (</tspan><tspan font-style="italic">p</tspan> &lt; 0.01)</text>
<text transform="translate(9.00,362.60) scale(1,1.04)" font-size="6.6" fill="#111" style="stroke-width:0.06px">Test for overall effect: <tspan font-style="italic">z</tspan> = 2.38 (<tspan font-style="italic">p</tspan> = 0.02)</text>
<line x1="357.45" y1="346.50" x2="451.25" y2="346.50" stroke="#a8a8a8" stroke-width="1.0"/>
<line x1="357.45" y1="346.50" x2="357.45" y2="350.50" stroke="#a8a8a8" stroke-width="1.0"/>
<text transform="translate(357.45,362.10) scale(1,1.04)" text-anchor="middle" fill="#111">-2</text>
<line x1="380.90" y1="346.50" x2="380.90" y2="350.50" stroke="#a8a8a8" stroke-width="1.0"/>
<text transform="translate(380.90,362.10) scale(1,1.04)" text-anchor="middle" fill="#111">-1</text>
<line x1="404.35" y1="346.50" x2="404.35" y2="350.50" stroke="#a8a8a8" stroke-width="1.0"/>
<text transform="translate(404.35,362.10) scale(1,1.04)" text-anchor="middle" fill="#111">0</text>
<line x1="427.80" y1="346.50" x2="427.80" y2="350.50" stroke="#a8a8a8" stroke-width="1.0"/>
<text transform="translate(427.80,362.10) scale(1,1.04)" text-anchor="middle" fill="#111">1</text>
<line x1="451.25" y1="346.50" x2="451.25" y2="350.50" stroke="#a8a8a8" stroke-width="1.0"/>
<text transform="translate(451.25,362.10) scale(1,1.04)" text-anchor="middle" fill="#111">2</text>

<line x1="3.65" y1="4.4" x2="3.65" y2="372" stroke="#2a2a2a" stroke-width="1.5"/>
<line x1="548.2" y1="4.4" x2="548.2" y2="372" stroke="#2a2a2a" stroke-width="1.5"/>
<line x1="3" y1="5.25" x2="548.9" y2="5.25" stroke="#2a2a2a" stroke-width="1.5"/>
<line x1="3" y1="371.3" x2="548.9" y2="371.3" stroke="#2a2a2a" stroke-width="1.5"/>
<rect x="3.65" y="209.3" width="544.5" height="3.2" fill="#000"/>

</g>
</svg>
</body></html>
